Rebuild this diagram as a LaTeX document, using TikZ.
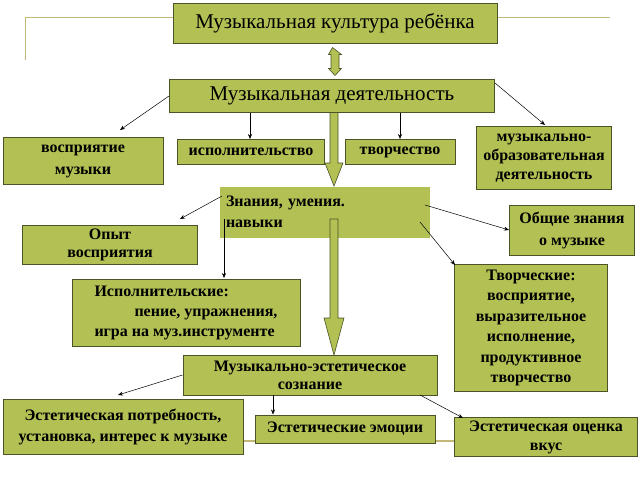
\documentclass[tikz,border=0pt]{standalone}
\usepackage{fontspec}
\setmainfont{Liberation Serif}
\usetikzlibrary{arrows.meta}
\definecolor{olive}{RGB}{178,192,84}
\definecolor{frame}{RGB}{74,84,38}
\definecolor{deco}{RGB}{196,184,120}
\newcommand{\fs}[1]{\bfseries\fontsize{16}{#1}\selectfont}
\begin{document}
\begin{tikzpicture}[x=1pt,y=-1pt]
	\tikzstyle{box}=[draw=frame,line width=1pt,fill=olive,inner sep=2pt,align=center,font=\fs{18}]
	\tikzstyle{thin}=[-{Stealth[length=5pt,width=4pt]},black,line width=0.5pt]
	\tikzstyle{fat}=[draw=frame,fill=olive,line width=0.6pt]
	\useasboundingbox (0,0) rectangle (640,480);
	% decoration
	\draw [deco,line width=0.8pt] (25,60) -- (25,17) -- (610,17);
	\draw [deco,line width=1.5pt] (243,441) -- (455,441);
	% boxes
	\node [box,minimum width=324pt,minimum height=40pt,font=\fontsize{21}{24}\selectfont] (culture) at (335,23) {Музыкальная культура ребёнка};
	\node [box,minimum width=325pt,minimum height=33pt,font=\fontsize{21}{24}\selectfont] (activity) at (332,96) {Музыкальная деятельность};
	\node [box,minimum width=160pt,minimum height=47pt,font=\fs{22}] (percept) at (83,161) {восприятие\\музыки};
	\node [box,minimum width=147pt,minimum height=25pt] (perform) at (251,152) {исполнительство};
	\node [box,minimum width=110pt,minimum height=25pt] (creative) at (400,152) {творчество};
	\node [box,minimum width=135pt,minimum height=63pt,font=\fs{19}] (educ) at (544,158) {музыкально-\\образовательная\\деятельность};
	\node [fill=olive,minimum width=210pt,minimum height=51pt,align=left,text width=198pt,font=\fs{21}] (skills) at (325,212) {Знания, умения.\\навыки};
	\node [box,minimum width=125pt,minimum height=50pt,font=\fs{22}] (general) at (572,230) {Общие знания\\о музыке};
	\node [box,minimum width=175pt,minimum height=39pt] (experience) at (110,245) {Опыт\\восприятия};
	\node [box,minimum width=153pt,minimum height=127pt,font=\fs{20.5}] (creatives) at (531,328) {Творческие:\\восприятие,\\выразительное\\исполнение,\\продуктивное\\творчество};
	\node [box,minimum width=228pt,minimum height=67pt,align=left,font=\fs{20}] (performs) at (186,313) {Исполнительские:\\\hspace*{2.5em}пение, упражнения,\\игра на муз.инструменте};
	\node [box,minimum width=254pt,minimum height=40pt] (aesthetic) at (310,375) {Музыкально-эстетическое\\сознание};
	\node [box,minimum width=240pt,minimum height=55pt,font=\fs{21}] (need) at (123,427) {Эстетическая потребность,\\установка, интерес к музыке};
	\node [box,minimum width=180pt,minimum height=28pt] (emotion) at (345,429) {Эстетические эмоции};
	\node [box,minimum width=183pt,minimum height=39pt,font=\fs{19}] (taste) at (546,437) {Эстетическая оценка\\вкус};
	% big arrows
	\draw [fat] ([xshift=-2.5pt]culture.south) ++(0,4) -- ++(-4,7) -- ++(2.5,0) -- ++(0,14) -- ++(-2.5,0) -- ++(6.5,7) -- ++(6.5,-7) -- ++(-2.5,0) -- ++(0,-14) -- ++(2.5,0) -- cycle;
	\draw [fat] (330,113) -- (330,163) -- (325,163) -- (334,186) -- (343,163) -- (338,163) -- (338,113);
	\draw [fat] (330,219) -- (330,318) -- (324,318) -- (334,355) -- (344,318) -- (338,318) -- (338,219) -- cycle;
	% thin arrows
	\draw [thin] (activity.west) -- (120,130);
	\draw [thin] (250,113) -- (perform.north -| 250,0);
	\draw [thin] (400,113) -- (creative.north);
	\draw [thin] (activity.north east) ++(0,4) -- (545,125);
	\draw [thin] (222,196) -- (180,219);
	\draw [thin] (224,219) -- (224,278);
	\draw [thin] (425,205) -- (general.west);
	\draw [thin] (420,222) -- (455,265);
	\draw [thin] (aesthetic.west) -- (118,395);
	\draw [thin] (273,395) -- (emotion.north -| 273,0);
	\draw [thin] (420,395) -- (463,418);
\end{tikzpicture}
\end{document}
